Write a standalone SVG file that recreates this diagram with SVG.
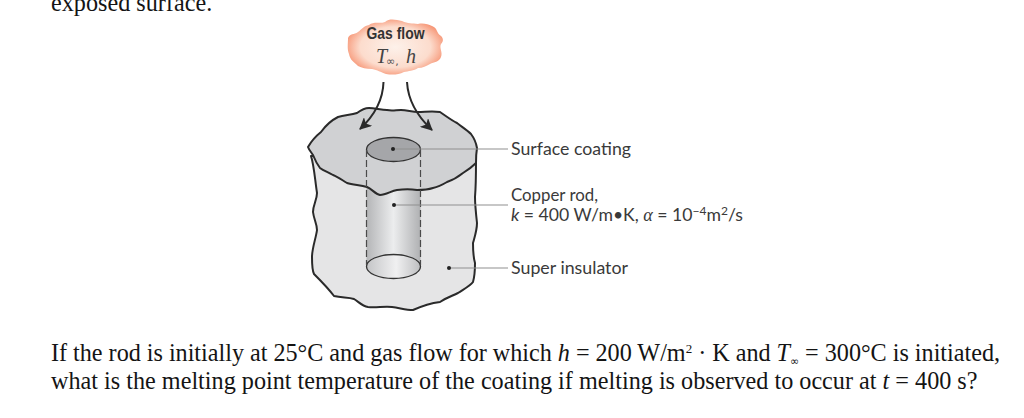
<svg xmlns="http://www.w3.org/2000/svg" width="1024" height="418" viewBox="0 0 1024 418">
<style>
.t{font-family:"Liberation Serif",serif;font-size:24.2px;fill:#141414}
.l{font-family:Lato,"Liberation Sans",Arial,sans-serif;font-size:17.500px;fill:#3a3a3a}
.o{stroke:#2a2a2a;stroke-width:2;stroke-linejoin:round}
.a{fill:none;stroke:#2a2a2a;stroke-width:2}
.lead{fill:none;stroke:#8f8f8f;stroke-width:1.1}
.dash{fill:none;stroke:#4a4a4a;stroke-width:1.2;stroke-dasharray:7 3}
.dot{fill:#222}
</style>
<defs>
<linearGradient id="rod" x1="0" x2="1" y1="0" y2="0"><stop offset="0" stop-color="#b4b5b7"/><stop offset=".5" stop-color="#ecedee"/><stop offset="1" stop-color="#b0b1b3"/></linearGradient>
<linearGradient id="hole" x1="0" x2="1" y1="0" y2="0"><stop offset="0" stop-color="#c4c5c7"/><stop offset=".55" stop-color="#f0f0f1"/><stop offset="1" stop-color="#bdbec0"/></linearGradient>
<radialGradient id="cloud" cx=".5" cy=".5" r=".56"><stop offset="0" stop-color="#fdf1ea"/><stop offset=".66" stop-color="#fcdccd"/><stop offset="1" stop-color="#f68e6c"/></radialGradient>
<marker id="ah" viewBox="0 0 12 12" refX="11" refY="6" markerWidth="12" markerHeight="12" markerUnits="userSpaceOnUse" orient="auto"><path d="M0 0L12 6L0 12L3 6Z" fill="#2a2a2a"/></marker>
</defs>
<g id="paragraph-top"><text class="t" x="51" y="11">exposed surface.</text></g>
<g id="gas-flow">
<path d="M348 38C350 33 354 35 358 32C362 29 364 26 369 25C374 21 380 24 385 22C390 18 396 20 402 21C408 24 412 23 418 24C423 23 428 24 432 26C438 28 436 33 441 36C444 39 443 42 441 44C439 48 443 52 441 57C439 62 434 62 430 64C426 66 423 68 418 68C414 71 408 71 404 72C398 75 392 75 386 74C380 72 378 70 372 69C366 69 362 68 358 66C354 62 350 60 349 54C347 49 348 44 348 38Z" fill="url(#cloud)"/>
<text x="395.500" y="39" text-anchor="middle" font-family="'Liberation Sans',Arial,sans-serif" font-size="17" font-weight="700" fill="#333" textLength="58" lengthAdjust="spacingAndGlyphs">Gas flow</text>
<text x="376" y="63" font-family="'Liberation Serif',serif" font-size="20" font-style="italic" fill="#444">T</text>
<text x="386" y="65" font-family="'DejaVu Sans',sans-serif" font-size="11" fill="#555">∞,</text>
<text x="406" y="63" font-family="'Liberation Serif',serif" font-size="20" font-style="italic" fill="#444">h</text>
</g>
<g id="insulator-block">
<path d="M311 156C314 165 315 180 317 193C317 200 313 205 313 212C314 220 317 224 317 230C316 238 312 248 312 257C312 264 312 270 314 274C322 282 328 288 334 296C342 298 348 297 354 299C359 302 362 306 368 307C376 308 384 306 392 307C400 308 406 310 413 310C422 306 432 303 440 302C446 298 452 296 458 293C464 289 470 286 473 282C475 275 475 268 475 263C473 256 473 249 473 243C475 236 477 230 477 223C476 214 475 205 475 197C476 185 476 175 476 160L476 150Z" fill="#e5e5e6" class="o"/>
</g>
<g id="copper-rod">
<path d="M366.500 175V266A27 12 0 0 0 420.500 266V175Z" fill="url(#rod)"/>
<ellipse cx="393.500" cy="266.500" rx="27" ry="12" fill="url(#hole)" stroke="#333" stroke-width="1.300"/>
</g>
<g id="surface-coating">
<path d="M308 147C312 140 316 136 321 132C326 125 332 120 338 117C345 115 351 115 357 113C361 110 364 108 369 108C375 108 381 110 387 110C392 111 396 110 401 110C407 110 412 112 418 112C425 112 432 111 440 112C446 116 451 120 457 123C462 127 467 130 471 134C474 138 476 142 477 148C476 154 476 159 476 163C472 167 468 170 463 173C458 177 453 180 447 182C442 185 438 187 433 188C427 190 422 190 417 190C411 189 404 189 397 190C391 191 386 195 380 195C375 194 372 189 367 187C360 185 353 185 347 183C342 180 338 177 333 175C328 172 324 171 320 168C317 164 315 160 313 155C311 152 309 150 308 147Z" fill="#d0d1d3" class="o"/>
<ellipse cx="393.500" cy="149.500" rx="27" ry="12" fill="#a5a6a9" stroke="#333" stroke-width="1.300"/>
<path class="dash" d="M366.500 150V265M420.500 150V265"/>
</g>
<g id="connectors">
<path class="a" marker-end="url(#ah)" d="M383.500 82C383 100 375 115 360 129"/>
<path class="a" marker-end="url(#ah)" d="M407 82C408 100 417 116 432 130"/>
<path class="lead" d="M393 149H508M394 205H508M449 268H508"/>
<circle class="dot" cx="393" cy="149" r="2"/>
<circle class="dot" cx="394" cy="205" r="2"/>
<circle class="dot" cx="449" cy="268" r="2"/>
</g>
<g id="label-surface"><text class="l" x="511" y="155" textLength="120" lengthAdjust="spacingAndGlyphs">Surface coating</text></g>
<g id="label-rod">
<text class="l" x="511" y="201" textLength="87" lengthAdjust="spacingAndGlyphs">Copper rod,</text>
<text class="l" x="511" y="221" textLength="232" lengthAdjust="spacingAndGlyphs"><tspan font-style="italic">k</tspan> = 400 W/m•K, <tspan font-family="'Liberation Serif',serif" font-style="italic" font-size="18">α</tspan> = 10<tspan font-size="12" dy="-6">−4</tspan><tspan dy="6">m</tspan><tspan font-size="12" dy="-6">2</tspan><tspan dy="6">/s</tspan></text>
</g>
<g id="label-insulator"><text class="l" x="511" y="274" textLength="117" lengthAdjust="spacingAndGlyphs">Super insulator</text></g>
<g id="question">
<text class="t" x="51" y="361" textLength="949" lengthAdjust="spacing">If the rod is initially at 25°C and gas flow for which <tspan font-style="italic">h</tspan> = 200 W/m<tspan font-size="13" dy="-8">2</tspan><tspan dy="8"> · K and </tspan><tspan font-style="italic">T</tspan><tspan font-family="'DejaVu Sans',sans-serif" font-size="11" dy="4">∞</tspan><tspan dy="-4"> = 300°C is initiated,</tspan></text>
<text class="t" x="51" y="389">what is the melting point temperature of the coating if melting is observed to occur at <tspan font-style="italic">t</tspan> = 400 s?</text>
</g>
</svg>
